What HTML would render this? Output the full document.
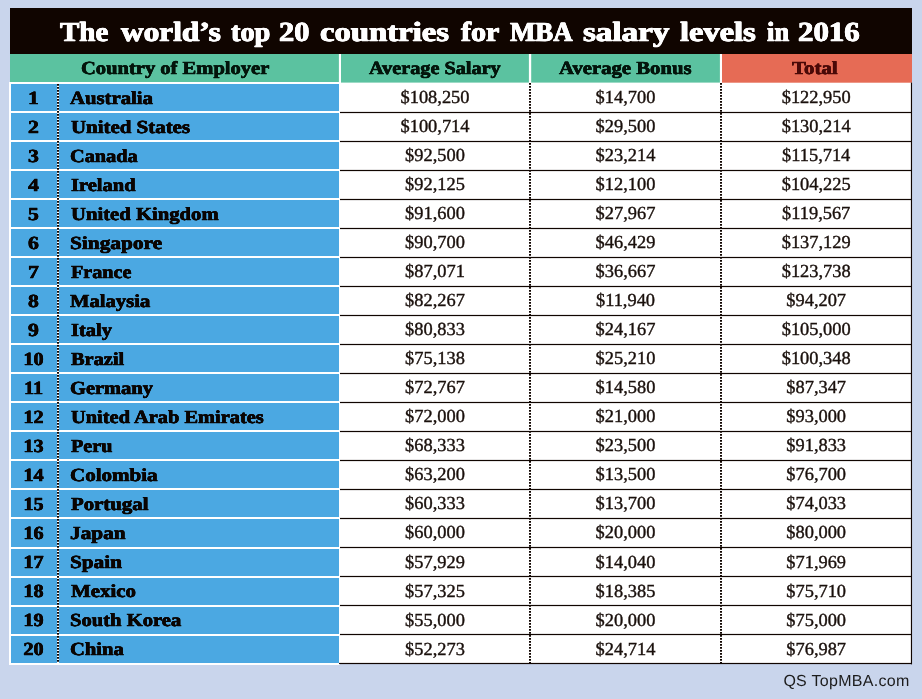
<!DOCTYPE html>
<html><head><meta charset="utf-8"><title>MBA salary</title>
<style>
html,body{margin:0;padding:0}
body{width:922px;height:699px;overflow:hidden;background:#c9d5ec;position:relative;font-family:"Liberation Serif",serif;}
.a{position:absolute}
.t{position:absolute;white-space:nowrap;line-height:1;text-rendering:geometricPrecision}
.b{font-weight:700;font-size:18.4px;color:#0a0503;transform-origin:0 15px;-webkit-text-stroke:0.5px currentColor;text-shadow:0.25px 0 0 currentColor,-0.25px 0 0 currentColor}
.c{transform-origin:50% 15px}
.tw{top:18px;font-weight:700;font-size:27.6px;color:#fff;transform-origin:0 50%;-webkit-text-stroke:0.6px #fff;text-shadow:0.5px 0 0 #fff,-0.5px 0 0 #fff}
.n{font-weight:400;font-size:18.4px;color:#1a100c;text-align:center;width:190px;-webkit-text-stroke:0.4px #1a100c;transform:translateZ(0)}
.num{text-align:center;width:47px;left:10.2px}
</style></head><body>
<svg class="a" style="left:0;top:0" width="922" height="699" viewBox="0 0 922 699">
<rect x="10" y="54" width="902" height="30" fill="#fff"/>
<rect x="9" y="82" width="331" height="583" fill="#fff"/>
<rect x="339" y="82" width="573" height="582" fill="#fff"/>
<rect x="10" y="8" width="902" height="46" fill="#100500"/>
<rect x="10" y="54" width="328.9" height="28" fill="#5bc2a0"/>
<rect x="341" y="54" width="187.9" height="28.6" fill="#5bc2a0"/>
<rect x="531.2" y="54" width="188.7" height="28.6" fill="#5bc2a0"/>
<rect x="722" y="54" width="190" height="28.7" fill="#e66b55"/>
<rect x="11" y="84" width="328" height="27" fill="#4ba8e2"/>
<rect x="11" y="113" width="328" height="27" fill="#4ba8e2"/>
<rect x="11" y="142" width="328" height="27" fill="#4ba8e2"/>
<rect x="11" y="171" width="328" height="27" fill="#4ba8e2"/>
<rect x="11" y="200" width="328" height="27" fill="#4ba8e2"/>
<rect x="11" y="229" width="328" height="27" fill="#4ba8e2"/>
<rect x="11" y="258" width="328" height="27" fill="#4ba8e2"/>
<rect x="11" y="287" width="328" height="27" fill="#4ba8e2"/>
<rect x="11" y="316" width="328" height="27" fill="#4ba8e2"/>
<rect x="11" y="345" width="328" height="27" fill="#4ba8e2"/>
<rect x="11" y="374" width="328" height="27" fill="#4ba8e2"/>
<rect x="11" y="403" width="328" height="27" fill="#4ba8e2"/>
<rect x="11" y="432" width="328" height="27" fill="#4ba8e2"/>
<rect x="11" y="461" width="328" height="27" fill="#4ba8e2"/>
<rect x="11" y="490" width="328" height="27" fill="#4ba8e2"/>
<rect x="11" y="519" width="328" height="28" fill="#4ba8e2"/>
<rect x="11" y="549" width="328" height="27" fill="#4ba8e2"/>
<rect x="11" y="578" width="328" height="27" fill="#4ba8e2"/>
<rect x="11" y="607" width="328" height="27" fill="#4ba8e2"/>
<rect x="11" y="636" width="328" height="27" fill="#4ba8e2"/>
<rect x="340" y="111.90" width="572" height="1.2" fill="#100500"/>
<rect x="340" y="140.90" width="572" height="1.2" fill="#100500"/>
<rect x="340" y="169.90" width="572" height="1.2" fill="#100500"/>
<rect x="340" y="198.90" width="572" height="1.2" fill="#100500"/>
<rect x="340" y="227.90" width="572" height="1.2" fill="#100500"/>
<rect x="340" y="256.90" width="572" height="1.2" fill="#100500"/>
<rect x="340" y="285.90" width="572" height="1.2" fill="#100500"/>
<rect x="340" y="314.90" width="572" height="1.2" fill="#100500"/>
<rect x="340" y="343.90" width="572" height="1.2" fill="#100500"/>
<rect x="340" y="372.90" width="572" height="1.2" fill="#100500"/>
<rect x="340" y="401.90" width="572" height="1.2" fill="#100500"/>
<rect x="340" y="430.90" width="572" height="1.2" fill="#100500"/>
<rect x="340" y="459.90" width="572" height="1.2" fill="#100500"/>
<rect x="340" y="488.90" width="572" height="1.2" fill="#100500"/>
<rect x="340" y="517.90" width="572" height="1.2" fill="#100500"/>
<rect x="340" y="546.90" width="572" height="1.2" fill="#100500"/>
<rect x="340" y="575.90" width="572" height="1.2" fill="#100500"/>
<rect x="340" y="604.90" width="572" height="1.2" fill="#100500"/>
<rect x="340" y="633.90" width="572" height="1.2" fill="#100500"/>
<rect x="339" y="662.90" width="573" height="1.2" fill="#100500"/>
<rect x="910.9" y="82.6" width="1.15" height="581.7" fill="#100500"/>
<rect x="57" y="84" width="2" height="579" fill="#fff"/>
<line x1="58" y1="84.1" x2="58" y2="663" stroke="#100500" stroke-width="2" stroke-dasharray="1.6 1.4"/>
<line x1="530" y1="83.1" x2="530" y2="664" stroke="#100500" stroke-width="2" stroke-dasharray="1.6 1.4"/>
<line x1="721" y1="83.1" x2="721" y2="664" stroke="#100500" stroke-width="2" stroke-dasharray="1.6 1.4"/>
</svg>
<div class="t tw" style="left:60.3px;transform:translateZ(0) scaleX(1.0492)">The</div><div class="t tw" style="left:120.57px;transform:translateZ(0) scaleX(1.1354)">world’s</div><div class="t tw" style="left:230.5px;transform:translateZ(0) scaleX(1.0252)">top</div><div class="t tw" style="left:279.17px;transform:translateZ(0) scaleX(1.101)">20</div><div class="t tw" style="left:319.91px;transform:translateZ(0) scaleX(1.1852)">countries</div><div class="t tw" style="left:461.27px;transform:translateZ(0) scaleX(1.0901)">for</div><div class="t tw" style="left:510.0px;transform:translateZ(0) scaleX(0.973)">MBA</div><div class="t tw" style="left:582.9px;transform:translateZ(0) scaleX(1.1986)">salary</div><div class="t tw" style="left:680.2px;transform:translateZ(0) scaleX(1.1767)">levels</div><div class="t tw" style="left:766.5px;transform:translateZ(0) scaleX(0.9634)">in</div><div class="t tw" style="left:798.26px;transform:translateZ(0) scaleX(1.1189)">2016</div>
<div class="t b" style="left:80.64px;transform:translateZ(0) scale(1.1173,1);top:58.9px;color:#04150c">Country of Employer</div>
<div class="t b" style="left:368.9px;transform:translateZ(0) scale(1.1006,1);top:58.9px;color:#04150c">Average Salary</div>
<div class="t b" style="left:559.0px;transform:translateZ(0) scale(1.126,1);top:58.9px;color:#04150c">Average Bonus</div>
<div class="t b" style="left:792.3px;transform:translateZ(0) scale(1.1354,1);top:58.9px;color:#4a0a08">Total</div>

<div class="t b c num" style="top:89.00px;transform:translateZ(0) scale(1.18,1)">1</div><div class="t b" style="left:70.10px;top:89.00px;transform:translateZ(0) scale(1.1279,1)">Australia</div><div class="t n" style="left:340px;top:88.00px">$108,250</div><div class="t n" style="left:530.5px;top:88.00px">$14,700</div><div class="t n" style="left:721.2px;top:88.00px">$122,950</div>
<div class="t b c num" style="top:118.00px;transform:translateZ(0) scale(1.18,1)">2</div><div class="t b" style="left:70.72px;top:118.00px;transform:translateZ(0) scale(1.1367,1)">United States</div><div class="t n" style="left:340px;top:117.00px">$100,714</div><div class="t n" style="left:530.5px;top:117.00px">$29,500</div><div class="t n" style="left:721.2px;top:117.00px">$130,214</div>
<div class="t b c num" style="top:147.00px;transform:translateZ(0) scale(1.18,1)">3</div><div class="t b" style="left:70.45px;top:147.00px;transform:translateZ(0) scale(1.1045,1)">Canada</div><div class="t n" style="left:340px;top:146.00px">$92,500</div><div class="t n" style="left:530.5px;top:146.00px">$23,214</div><div class="t n" style="left:721.2px;top:146.00px">$115,714</div>
<div class="t b c num" style="top:176.00px;transform:translateZ(0) scale(1.18,1)">4</div><div class="t b" style="left:71.32px;top:176.00px;transform:translateZ(0) scale(1.1152,1)">Ireland</div><div class="t n" style="left:340px;top:175.00px">$92,125</div><div class="t n" style="left:530.5px;top:175.00px">$12,100</div><div class="t n" style="left:721.2px;top:175.00px">$104,225</div>
<div class="t b c num" style="top:205.00px;transform:translateZ(0) scale(1.18,1)">5</div><div class="t b" style="left:70.72px;top:205.00px;transform:translateZ(0) scale(1.1244,1)">United Kingdom</div><div class="t n" style="left:340px;top:204.00px">$91,600</div><div class="t n" style="left:530.5px;top:204.00px">$27,967</div><div class="t n" style="left:721.2px;top:204.00px">$119,567</div>
<div class="t b c num" style="top:234.00px;transform:translateZ(0) scale(1.18,1)">6</div><div class="t b" style="left:70.13px;top:234.00px;transform:translateZ(0) scale(1.1605,1)">Singapore</div><div class="t n" style="left:340px;top:233.00px">$90,700</div><div class="t n" style="left:530.5px;top:233.00px">$46,429</div><div class="t n" style="left:721.2px;top:233.00px">$137,129</div>
<div class="t b c num" style="top:263.00px;transform:translateZ(0) scale(1.18,1)">7</div><div class="t b" style="left:71.00px;top:263.00px;transform:translateZ(0) scale(1.0945,1)">France</div><div class="t n" style="left:340px;top:262.00px">$87,071</div><div class="t n" style="left:530.5px;top:262.00px">$36,667</div><div class="t n" style="left:721.2px;top:262.00px">$123,738</div>
<div class="t b c num" style="top:292.00px;transform:translateZ(0) scale(1.18,1)">8</div><div class="t b" style="left:70.40px;top:292.00px;transform:translateZ(0) scale(1.1217,1)">Malaysia</div><div class="t n" style="left:340px;top:291.00px">$82,267</div><div class="t n" style="left:530.5px;top:291.00px">$11,940</div><div class="t n" style="left:721.2px;top:291.00px">$94,207</div>
<div class="t b c num" style="top:321.00px;transform:translateZ(0) scale(1.18,1)">9</div><div class="t b" style="left:70.72px;top:321.00px;transform:translateZ(0) scale(1.1156,1)">Italy</div><div class="t n" style="left:340px;top:320.00px">$80,833</div><div class="t n" style="left:530.5px;top:320.00px">$24,167</div><div class="t n" style="left:721.2px;top:320.00px">$105,000</div>
<div class="t b c num" style="top:350.00px;transform:translateZ(0) scale(1.1,1)">10</div><div class="t b" style="left:71.00px;top:350.00px;transform:translateZ(0) scale(1.1083,1)">Brazil</div><div class="t n" style="left:340px;top:349.00px">$75,138</div><div class="t n" style="left:530.5px;top:349.00px">$25,210</div><div class="t n" style="left:721.2px;top:349.00px">$100,348</div>
<div class="t b c num" style="top:379.00px;transform:translateZ(0) scale(1.1,1)">11</div><div class="t b" style="left:70.44px;top:379.00px;transform:translateZ(0) scale(1.1125,1)">Germany</div><div class="t n" style="left:340px;top:378.00px">$72,767</div><div class="t n" style="left:530.5px;top:378.00px">$14,580</div><div class="t n" style="left:721.2px;top:378.00px">$87,347</div>
<div class="t b c num" style="top:408.00px;transform:translateZ(0) scale(1.1,1)">12</div><div class="t b" style="left:70.72px;top:408.00px;transform:translateZ(0) scale(1.11,1)">United Arab Emirates</div><div class="t n" style="left:340px;top:407.00px">$72,000</div><div class="t n" style="left:530.5px;top:407.00px">$21,000</div><div class="t n" style="left:721.2px;top:407.00px">$93,000</div>
<div class="t b c num" style="top:437.00px;transform:translateZ(0) scale(1.1,1)">13</div><div class="t b" style="left:71.00px;top:437.00px;transform:translateZ(0) scale(1.0933,1)">Peru</div><div class="t n" style="left:340px;top:436.00px">$68,333</div><div class="t n" style="left:530.5px;top:436.00px">$23,500</div><div class="t n" style="left:721.2px;top:436.00px">$91,833</div>
<div class="t b c num" style="top:466.00px;transform:translateZ(0) scale(1.1,1)">14</div><div class="t b" style="left:70.43px;top:466.00px;transform:translateZ(0) scale(1.1436,1)">Colombia</div><div class="t n" style="left:340px;top:465.00px">$63,200</div><div class="t n" style="left:530.5px;top:465.00px">$13,500</div><div class="t n" style="left:721.2px;top:465.00px">$76,700</div>
<div class="t b c num" style="top:495.00px;transform:translateZ(0) scale(1.1,1)">15</div><div class="t b" style="left:71.00px;top:495.00px;transform:translateZ(0) scale(1.1314,1)">Portugal</div><div class="t n" style="left:340px;top:494.00px">$60,333</div><div class="t n" style="left:530.5px;top:494.00px">$13,700</div><div class="t n" style="left:721.2px;top:494.00px">$74,033</div>
<div class="t b c num" style="top:524.00px;transform:translateZ(0) scale(1.1,1)">16</div><div class="t b" style="left:69.52px;top:524.00px;transform:translateZ(0) scale(1.1579,1)">Japan</div><div class="t n" style="left:340px;top:523.00px">$60,000</div><div class="t n" style="left:530.5px;top:523.00px">$20,000</div><div class="t n" style="left:721.2px;top:523.00px">$80,000</div>
<div class="t b c num" style="top:553.00px;transform:translateZ(0) scale(1.1,1)">17</div><div class="t b" style="left:70.13px;top:553.00px;transform:translateZ(0) scale(1.1548,1)">Spain</div><div class="t n" style="left:340px;top:553.00px">$57,929</div><div class="t n" style="left:530.5px;top:553.00px">$14,040</div><div class="t n" style="left:721.2px;top:553.00px">$71,969</div>
<div class="t b c num" style="top:582.00px;transform:translateZ(0) scale(1.1,1)">18</div><div class="t b" style="left:71.00px;top:582.00px;transform:translateZ(0) scale(1.1348,1)">Mexico</div><div class="t n" style="left:340px;top:582.00px">$57,325</div><div class="t n" style="left:530.5px;top:582.00px">$18,385</div><div class="t n" style="left:721.2px;top:582.00px">$75,710</div>
<div class="t b c num" style="top:611.00px;transform:translateZ(0) scale(1.1,1)">19</div><div class="t b" style="left:70.16px;top:611.00px;transform:translateZ(0) scale(1.1198,1)">South Korea</div><div class="t n" style="left:340px;top:611.00px">$55,000</div><div class="t n" style="left:530.5px;top:611.00px">$20,000</div><div class="t n" style="left:721.2px;top:611.00px">$75,000</div>
<div class="t b c num" style="top:640.00px;transform:translateZ(0) scale(1.1,1)">20</div><div class="t b" style="left:70.44px;top:640.00px;transform:translateZ(0) scale(1.12,1)">China</div><div class="t n" style="left:340px;top:640.00px">$52,273</div><div class="t n" style="left:530.5px;top:640.00px">$24,714</div><div class="t n" style="left:721.2px;top:640.00px">$76,987</div>
<div class="t" style="right:12.3px;top:674.3px;font-family:'Liberation Sans',sans-serif;font-size:16px;letter-spacing:0.3px;color:#1c1c1c;transform:translateZ(0)">QS TopMBA.com</div>
</body></html>
